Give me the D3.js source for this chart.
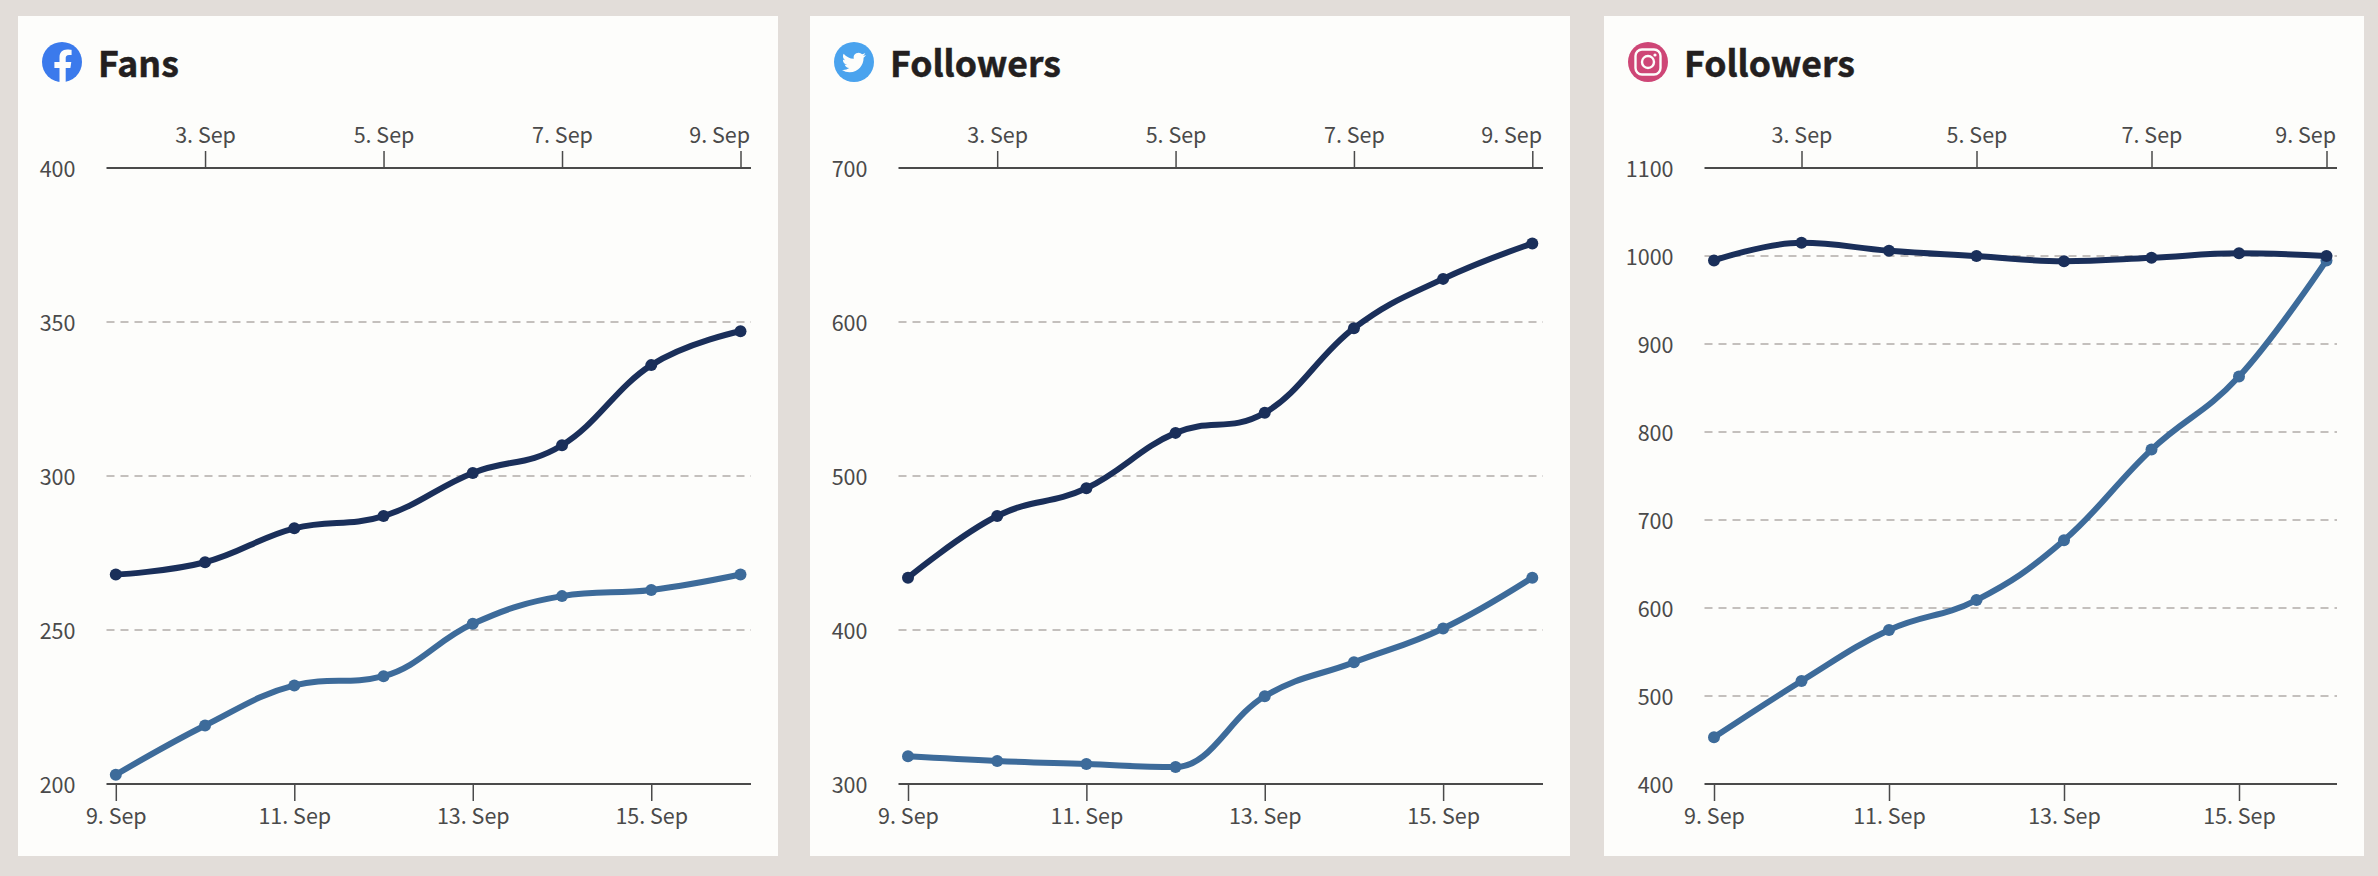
<!DOCTYPE html>
<html><head><meta charset="utf-8">
<script src="https://cdn.jsdelivr.net/npm/d3@7"></script>
<style>
html,body{margin:0;padding:0;background:#e2ddd9;}
svg{display:block;}
text{font-family:"Noto Sans CJK SC","Noto Sans",sans-serif;}
</style></head><body>
<svg id="c" width="2378" height="876"></svg>
<script>
// ---- data ----
const days = [9,10,11,12,13,14,15,16];
const topDays = [2,3,4,5,6,7,8,9];
const bottomTicks = [9,11,13,15];
const topTicks = [3,5,7,9];
const titles = ["Fans","Followers","Followers"];
const fbDark  = [268,272,283,287,301,310,336,347];
const fbLight = [203,219,232,235,252,261,263,268];
const twDark  = [434,474,492,528,541,596,628,651];
const twLight = [318,315,313,311,357,379,401,434];
const igDark  = [995,1015,1006,1000,994,998,1003,1000];
const igLight = [453,517,575,609,677,780,863,995];
const fbTicks = [200,250,300,350,400];
const twTicks = [300,400,500,600,700];
const igTicks = [400,500,600,700,800,900,1000,1100];

const DARK="#1a2f5a", LIGHT="#3d6b9a", AXIS="#4a4a4a", GRID="#c4c0bd", CARD="#fdfdfb", TITLE="#231f20";

// Spline with smoothing handles (0.4 of the neighbour distance, no overshoot)
function SplineCurve(ctx){this._c=ctx;}
SplineCurve.prototype={
  areaStart(){},areaEnd(){},
  lineStart(){this._p=[];},
  point(x,y){this._p.push([+x,+y]);},
  lineEnd(){
    const p=this._p,c=this._c,k=1.5,d=k+1;
    c.moveTo(p[0][0],p[0][1]);
    let rx=p[0][0],ry=p[0][1];
    for(let i=1;i<p.length;i++){
      const [x,y]=p[i],[lx,ly]=p[i-1];
      let ax=x,ay=y,bx=x,by=y;
      if(i<p.length-1){
        const [nx,ny]=p[i+1];
        ax=(k*x+lx)/d;ay=(k*y+ly)/d;bx=(k*x+nx)/d;by=(k*y+ny)/d;
        const corr=((by-ay)*(bx-x))/(bx-ax)+y-by;
        ay+=corr;by+=corr;
        if(ay>ly&&ay>y){ay=Math.max(ly,y);by=2*y-ay;}
        else if(ay<ly&&ay<y){ay=Math.min(ly,y);by=2*y-ay;}
        if(by>ny&&by>y){by=Math.max(ny,y);ay=2*y-by;}
        else if(by<ny&&by<y){by=Math.min(ny,y);ay=2*y-by;}
      }
      c.bezierCurveTo(rx,ry,ax,ay,x,y);
      rx=bx;ry=by;
    }
  }
};
const splineCurve=ctx=>new SplineCurve(ctx);

const ICONS={
 fb:(g)=>{
  g.append("circle").attr("r",20).attr("fill","#3b7aec");
  g.append("path").attr("fill",CARD).attr("transform","translate(0.9,0)")
   .attr("d","M-3.4 20 V6 H-8.5 V0 H-3.4 V-4.6 C-3.4 -9.7 -0.4 -12.5 4.2 -12.5 C6.4 -12.5 8.7 -12.1 8.7 -12.1 V-7.1 H6.1 C3.6 -7.1 2.8 -5.6 2.8 -4 V0 H8.4 L7.5 6 H2.8 V20 Z");
 },
 tw:(g)=>{
  g.append("circle").attr("r",20).attr("fill","#4aa3ee");
  g.append("path").attr("fill",CARD).attr("transform","translate(-12,-11.5) scale(1)")
   .attr("d","M23.953 4.57a10 10 0 01-2.825.775 4.958 4.958 0 002.163-2.723c-.951.555-2.005.959-3.127 1.184a4.92 4.92 0 00-8.384 4.482C7.69 8.095 4.067 6.13 1.64 3.162a4.822 4.822 0 00-.666 2.475c0 1.71.87 3.213 2.188 4.096a4.904 4.904 0 01-2.228-.616v.06a4.923 4.923 0 003.946 4.827 4.996 4.996 0 01-2.212.085 4.936 4.936 0 004.604 3.417 9.867 9.867 0 01-6.102 2.105c-.39 0-.779-.023-1.17-.067a13.995 13.995 0 007.557 2.209c9.053 0 13.998-7.496 13.998-13.985 0-.21 0-.42-.015-.63A9.935 9.935 0 0024 4.59z");
 },
 ig:(g)=>{
  g.append("circle").attr("r",20).attr("fill","#ce4676");
  g.append("rect").attr("x",-12.5).attr("y",-12.5).attr("width",25).attr("height",25).attr("rx",6.5)
   .attr("fill","none").attr("stroke",CARD).attr("stroke-width",2.4);
  g.append("circle").attr("r",6).attr("fill","none").attr("stroke",CARD).attr("stroke-width",2.4);
  g.append("circle").attr("cx",7).attr("cy",-7).attr("r",1.6).attr("fill",CARD);
 }
};

const panels=[
 {icon:"fb",card:18, iconX:62, titleX:98, labelR:75.5, a0:106.5,a1:751,x0:115.8,x1:740.5,dom:[200,400],ticks:fbTicks,dark:fbDark,light:fbLight},
 {icon:"tw",card:810,iconX:854,titleX:890,labelR:867.5,a0:898.5,a1:1543,x0:908,x1:1532.3,dom:[300,700],ticks:twTicks,dark:twDark,light:twLight},
 {icon:"ig",card:1604,iconX:1648,titleX:1684,labelR:1673.5,a0:1704.5,a1:2337,x0:1714,x1:2326.5,dom:[400,1100],ticks:igTicks,dark:igDark,light:igLight}
];
const Y0=784,Y1=168,CARD_T=16,CARD_H=840,CARD_W=760;
const svg=d3.select("#c");
const FS=21.5;

panels.forEach((p,idx)=>{
  const g=svg.append("g");
  g.append("rect").attr("x",p.card).attr("y",CARD_T).attr("width",CARD_W).attr("height",CARD_H).attr("fill",CARD);
  ICONS[p.icon](g.append("g").attr("transform",`translate(${p.iconX},62)`));
  g.append("text").attr("x",p.titleX).attr("y",77).attr("font-size",35.6).attr("font-weight",700).attr("fill",TITLE)
    .attr("stroke",TITLE).attr("stroke-width",0.5).text(titles[idx]);

  const y=d3.scaleLinear().domain(p.dom).range([Y0,Y1]);
  const x=d3.scaleLinear().domain([days[0],days[days.length-1]]).range([p.x0,p.x1]);
  const xTop=d3.scaleLinear().domain([topDays[0],topDays[topDays.length-1]]).range([p.x0,p.x1]);

  // grid
  g.append("g").selectAll("line").data(p.ticks.filter(t=>t!==p.dom[0]&&t!==p.dom[1])).join("line")
    .attr("x1",p.a0).attr("x2",p.a1).attr("y1",d=>y(d)).attr("y2",d=>y(d))
    .attr("stroke",GRID).attr("stroke-width",2).attr("stroke-dasharray","8 6");

  // y labels
  g.append("g").selectAll("text").data(p.ticks).join("text")
    .attr("x",p.labelR).attr("y",d=>y(d)+8.5).attr("text-anchor","end")
    .attr("font-size",FS).attr("fill",AXIS).text(d=>d);

  // bottom axis
  const bottom=g.append("g").attr("transform",`translate(0,${Y0})`)
    .call(d3.axisBottom(x).tickValues(bottomTicks).tickSize(17).tickPadding(7).tickFormat(d=>`${d}. Sep`));
  // top axis
  const top=g.append("g").attr("transform",`translate(0,${Y1})`)
    .call(d3.axisTop(xTop).tickValues(topTicks).tickSize(17).tickPadding(7).tickFormat(d=>`${d}. Sep`));
  [bottom,top].forEach(a=>{
    a.select(".domain").remove();
    a.append("line").attr("x1",p.a0).attr("x2",p.a1).attr("stroke",AXIS).attr("stroke-width",2);
    a.selectAll(".tick line").attr("stroke",AXIS).attr("stroke-width",1.5);
    a.selectAll(".tick text").attr("fill",AXIS).attr("font-size",FS).attr("font-family",null);
  });
  bottom.selectAll(".tick text").attr("dy",null).attr("y",40);
  top.selectAll(".tick text").attr("dy",null).attr("y",-25);
  // last top label stays inside the plot
  top.selectAll(".tick").filter(d=>d===topTicks[topTicks.length-1]).select("text")
    .attr("text-anchor","end").attr("x",p.a1-1.5-xTop(topTicks[topTicks.length-1]));

  // series
  const line=d3.line().x((d,i)=>x(days[i])).y(d=>y(d)).curve(splineCurve);
  [[p.light,LIGHT],[p.dark,DARK]].forEach(([vals,col])=>{
    const s=g.append("g");
    s.append("path").attr("d",line(vals)).attr("fill","none").attr("stroke",col).attr("stroke-width",6);
    s.selectAll("circle").data(vals).join("circle")
      .attr("cx",(d,i)=>x(days[i])).attr("cy",d=>y(d)).attr("r",6).attr("fill",col);
  });
});
</script></body></html>
